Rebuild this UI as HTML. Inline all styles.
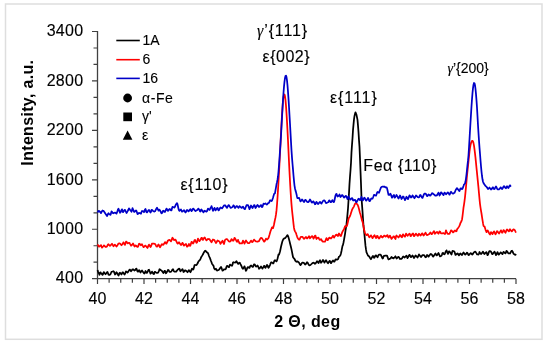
<!DOCTYPE html>
<html><head><meta charset="utf-8"><style>
html,body{margin:0;padding:0;background:#fff;}
body{width:550px;height:345px;overflow:hidden;}
svg{display:block;}
text{font-family:"Liberation Sans",Arial,sans-serif;fill:#000;}
.t16{font-size:16px;stroke:#000;stroke-width:0.12px;}
.t14{font-size:14px;stroke:#000;stroke-width:0.12px;}
.t13{font-size:13px;stroke:#000;stroke-width:0.2px;}
.b16{font-size:16px;font-weight:bold;}
.g{font-family:"Liberation Serif",serif;font-style:italic;}
</style></head><body>
<svg width="550" height="345" viewBox="0 0 550 345">
<rect x="0" y="0" width="550" height="345" fill="#fff"/>
<rect x="5.5" y="4" width="536.5" height="335.3" fill="none" stroke="#dedede" stroke-width="1.5"/>
<path d="M97.5,31.0 V278.7 H516.0" fill="none" stroke="#404040" stroke-width="1.3"/>
<path d="M92.0,278.70H97.5 M93.5,262.22H97.5 M93.5,245.74H97.5 M92.0,229.26H97.5 M93.5,212.78H97.5 M93.5,196.30H97.5 M92.0,179.82H97.5 M93.5,163.34H97.5 M93.5,146.86H97.5 M92.0,130.38H97.5 M93.5,113.90H97.5 M93.5,97.42H97.5 M92.0,80.94H97.5 M93.5,64.46H97.5 M93.5,47.98H97.5 M92.0,31.50H97.5 M97.50,278.7V284 M109.12,278.7V282.8 M120.75,278.7V282.8 M132.38,278.7V282.8 M144.00,278.7V284 M155.62,278.7V282.8 M167.25,278.7V282.8 M178.88,278.7V282.8 M190.50,278.7V284 M202.12,278.7V282.8 M213.75,278.7V282.8 M225.38,278.7V282.8 M237.00,278.7V284 M248.62,278.7V282.8 M260.25,278.7V282.8 M271.88,278.7V282.8 M283.50,278.7V284 M295.12,278.7V282.8 M306.75,278.7V282.8 M318.38,278.7V282.8 M330.00,278.7V284 M341.62,278.7V282.8 M353.25,278.7V282.8 M364.88,278.7V282.8 M376.50,278.7V284 M388.12,278.7V282.8 M399.75,278.7V282.8 M411.38,278.7V282.8 M423.00,278.7V284 M434.62,278.7V282.8 M446.25,278.7V282.8 M457.88,278.7V282.8 M469.50,278.7V284 M481.12,278.7V282.8 M492.75,278.7V282.8 M504.38,278.7V282.8 M516.00,278.7V284" fill="none" stroke="#404040" stroke-width="1.2"/>
<text x="83.1" y="283.4" text-anchor="end" class="t16" textLength="27.3" lengthAdjust="spacing">400</text>
<text x="83.1" y="234.0" text-anchor="end" class="t16" textLength="36.4" lengthAdjust="spacing">1000</text>
<text x="83.1" y="184.5" text-anchor="end" class="t16" textLength="36.4" lengthAdjust="spacing">1600</text>
<text x="83.1" y="135.1" text-anchor="end" class="t16" textLength="36.4" lengthAdjust="spacing">2200</text>
<text x="83.1" y="85.6" text-anchor="end" class="t16" textLength="36.4" lengthAdjust="spacing">2800</text>
<text x="83.1" y="36.2" text-anchor="end" class="t16" textLength="36.4" lengthAdjust="spacing">3400</text>
<text x="97.5" y="303.6" text-anchor="middle" class="t16">40</text>
<text x="144.0" y="303.6" text-anchor="middle" class="t16">42</text>
<text x="190.5" y="303.6" text-anchor="middle" class="t16">44</text>
<text x="237.0" y="303.6" text-anchor="middle" class="t16">46</text>
<text x="283.5" y="303.6" text-anchor="middle" class="t16">48</text>
<text x="330.0" y="303.6" text-anchor="middle" class="t16">50</text>
<text x="376.5" y="303.6" text-anchor="middle" class="t16">52</text>
<text x="423.0" y="303.6" text-anchor="middle" class="t16">54</text>
<text x="469.5" y="303.6" text-anchor="middle" class="t16">56</text>
<text x="516.0" y="303.6" text-anchor="middle" class="t16">58</text>
<text x="307.2" y="326.8" text-anchor="middle" class="b16" textLength="66" lengthAdjust="spacing">2 Θ, deg</text>
<text transform="translate(33,112.8) rotate(-90)" text-anchor="middle" class="b16" textLength="105.7" lengthAdjust="spacing">Intensity, a.u.</text>
<path d="M97.5,270.1 L98.0,271.3 L98.5,272.4 L99.0,273.6 L99.5,274.8 L100.0,273.3 L100.5,272.3 L101.0,273.0 L101.5,273.6 L102.0,274.3 L102.5,274.9 L103.0,274.2 L103.5,272.4 L104.0,272.1 L104.5,272.9 L105.0,273.7 L105.5,274.2 L106.0,273.6 L106.5,273.0 L107.0,272.3 L107.5,272.0 L108.0,273.3 L108.5,274.6 L109.0,274.9 L109.5,274.8 L110.0,274.7 L110.5,274.2 L111.0,273.0 L111.5,271.9 L112.0,271.7 L112.5,271.5 L113.0,271.4 L113.5,271.2 L114.0,271.8 L114.5,273.1 L115.0,274.5 L115.5,274.2 L116.0,273.2 L116.5,272.2 L117.0,273.0 L117.5,273.8 L118.0,274.7 L118.5,275.5 L119.0,274.6 L119.5,273.0 L120.0,272.7 L120.5,273.3 L121.0,274.0 L121.5,274.5 L122.0,273.4 L122.5,272.4 L123.0,272.3 L123.5,273.1 L124.0,273.9 L124.5,274.6 L125.0,273.8 L125.5,272.6 L126.0,271.4 L126.5,271.7 L127.0,272.1 L127.5,272.5 L128.0,272.1 L128.5,271.2 L129.0,270.4 L129.5,269.6 L130.0,269.7 L130.5,270.6 L131.0,271.3 L131.5,270.7 L132.0,270.0 L132.5,269.3 L133.0,269.3 L133.5,269.7 L134.0,270.1 L134.5,270.5 L135.0,270.3 L135.5,269.5 L136.0,268.8 L136.5,268.7 L137.0,270.1 L137.5,271.5 L138.0,271.7 L138.5,270.9 L139.0,270.1 L139.5,270.6 L140.0,271.6 L140.5,272.5 L141.0,271.8 L141.5,271.1 L142.0,270.5 L142.5,271.2 L143.0,271.9 L143.5,272.6 L144.0,273.4 L144.5,273.5 L145.0,272.3 L145.5,271.0 L146.0,271.9 L146.5,272.9 L147.0,272.8 L147.5,271.8 L148.0,270.8 L148.5,269.9 L149.0,269.7 L149.5,271.0 L150.0,272.3 L150.5,273.7 L151.0,273.2 L151.5,272.4 L152.0,271.6 L152.5,272.4 L153.0,273.2 L153.5,274.0 L154.0,274.1 L154.5,272.2 L155.0,271.8 L155.5,272.2 L156.0,272.5 L156.5,272.8 L157.0,272.9 L157.5,272.8 L158.0,272.7 L158.5,271.9 L159.0,270.6 L159.5,269.2 L160.0,269.5 L160.5,269.9 L161.0,270.2 L161.5,270.5 L162.0,271.1 L162.5,271.8 L163.0,272.6 L163.5,273.0 L164.0,272.0 L164.5,270.9 L165.0,270.8 L165.5,272.1 L166.0,273.3 L166.5,272.7 L167.0,271.8 L167.5,270.9 L168.0,269.9 L168.5,270.0 L169.0,270.9 L169.5,271.8 L170.0,271.8 L170.5,271.8 L171.0,271.8 L171.5,271.2 L172.0,270.3 L172.5,269.6 L173.0,269.2 L173.5,270.4 L174.0,271.5 L174.5,271.6 L175.0,271.6 L175.5,271.7 L176.0,271.7 L176.5,271.3 L177.0,270.6 L177.5,269.9 L178.0,269.4 L178.5,269.1 L179.0,268.7 L179.5,268.8 L180.0,270.3 L180.5,271.3 L181.0,270.6 L181.5,270.1 L182.0,269.7 L182.5,269.2 L183.0,270.4 L183.5,272.0 L184.0,271.8 L184.5,271.0 L185.0,270.3 L185.5,270.4 L186.0,270.8 L186.5,271.2 L187.0,271.7 L187.5,272.2 L188.0,271.5 L188.5,270.8 L189.0,270.1 L189.5,270.9 L190.0,271.7 L190.5,272.2 L191.0,271.2 L191.5,269.6 L192.0,268.6 L192.5,269.1 L193.0,269.6 L193.5,269.1 L194.0,267.2 L194.5,265.3 L195.0,264.9 L195.5,265.0 L196.0,265.1 L196.5,265.1 L197.0,264.3 L197.5,263.5 L198.0,262.5 L198.5,261.4 L199.0,260.9 L199.5,260.3 L200.0,259.8 L200.5,258.9 L201.0,257.6 L201.5,256.6 L202.0,255.9 L202.5,255.1 L203.0,254.3 L203.5,253.1 L204.0,252.3 L204.5,251.5 L205.0,250.9 L205.5,250.7 L206.0,251.3 L206.5,252.1 L207.0,252.4 L207.5,252.6 L208.0,253.3 L208.5,254.4 L209.0,256.0 L209.5,257.2 L210.0,258.2 L210.5,259.6 L211.0,261.0 L211.5,262.3 L212.0,263.6 L212.5,264.5 L213.0,265.1 L213.5,265.8 L214.0,267.8 L214.5,269.0 L215.0,269.5 L215.5,269.2 L216.0,268.8 L216.5,269.7 L217.0,270.6 L217.5,270.5 L218.0,270.3 L218.5,270.0 L219.0,269.7 L219.5,269.2 L220.0,268.2 L220.5,267.6 L221.0,267.0 L221.5,267.9 L222.0,269.3 L222.5,270.6 L223.0,270.5 L223.5,269.9 L224.0,269.3 L224.5,269.3 L225.0,269.4 L225.5,269.4 L226.0,268.4 L226.5,266.9 L227.0,265.8 L227.5,266.1 L228.0,266.5 L228.5,266.9 L229.0,267.2 L229.5,265.9 L230.0,264.6 L230.5,264.9 L231.0,265.2 L231.5,265.5 L232.0,265.8 L232.5,264.7 L233.0,262.5 L233.5,262.2 L234.0,262.4 L234.5,262.5 L235.0,262.6 L235.5,262.5 L236.0,261.6 L236.5,261.2 L237.0,262.1 L237.5,263.0 L238.0,263.9 L238.5,263.8 L239.0,263.1 L239.5,262.6 L240.0,263.0 L240.5,264.1 L241.0,265.1 L241.5,266.2 L242.0,267.4 L242.5,268.5 L243.0,268.8 L243.5,267.9 L244.0,267.1 L244.5,266.3 L245.0,267.7 L245.5,269.6 L246.0,270.8 L246.5,270.0 L247.0,268.7 L247.5,267.4 L248.0,267.1 L248.5,267.4 L249.0,267.7 L249.5,267.8 L250.0,266.7 L250.5,265.7 L251.0,265.5 L251.5,265.9 L252.0,266.4 L252.5,266.9 L253.0,266.8 L253.5,265.6 L254.0,264.4 L254.5,264.3 L255.0,264.9 L255.5,265.8 L256.0,266.7 L256.5,266.5 L257.0,266.0 L257.5,265.5 L258.0,266.2 L258.5,267.5 L259.0,268.8 L259.5,268.5 L260.0,268.0 L260.5,267.2 L261.0,266.5 L261.5,267.2 L262.0,268.0 L262.5,268.6 L263.0,267.7 L263.5,266.8 L264.0,265.8 L264.5,266.1 L265.0,267.3 L265.5,267.8 L266.0,266.9 L266.5,265.9 L267.0,264.9 L267.5,265.6 L268.0,267.0 L268.5,267.9 L269.0,267.0 L269.5,266.0 L270.0,265.1 L270.5,263.6 L271.0,262.6 L271.5,262.3 L272.0,262.5 L272.5,263.0 L273.0,263.5 L273.5,263.2 L274.0,261.8 L274.5,260.5 L275.0,260.2 L275.5,260.6 L276.0,261.0 L276.5,261.4 L277.0,260.3 L277.5,258.8 L278.0,256.6 L278.5,254.5 L279.0,254.7 L279.5,253.2 L280.0,251.5 L280.5,249.2 L281.0,246.8 L281.5,244.7 L282.0,242.7 L282.5,241.0 L283.0,239.9 L283.5,238.9 L284.0,238.6 L284.5,238.4 L285.0,238.2 L285.5,237.6 L286.0,237.0 L286.5,236.5 L287.0,235.7 L287.5,235.2 L288.0,236.0 L288.5,237.4 L289.0,239.2 L289.5,241.1 L290.0,243.2 L290.5,245.2 L291.0,247.2 L291.5,249.4 L292.0,251.9 L292.5,254.5 L293.0,257.0 L293.5,257.8 L294.0,258.3 L294.5,259.0 L295.0,260.0 L295.5,261.0 L296.0,261.5 L296.5,261.8 L297.0,261.5 L297.5,261.4 L298.0,261.9 L298.5,262.1 L299.0,262.7 L299.5,263.6 L300.0,264.5 L300.5,265.1 L301.0,264.5 L301.5,263.8 L302.0,262.8 L302.5,262.7 L303.0,262.7 L303.5,262.8 L304.0,263.1 L304.5,263.8 L305.0,264.4 L305.5,264.5 L306.0,263.7 L306.5,262.9 L307.0,262.2 L307.5,262.5 L308.0,263.4 L308.5,264.3 L309.0,265.2 L309.5,265.3 L310.0,265.2 L310.5,265.0 L311.0,264.5 L311.5,264.0 L312.0,263.5 L312.5,263.1 L313.0,262.9 L313.5,262.7 L314.0,262.8 L314.5,263.3 L315.0,263.8 L315.5,263.5 L316.0,262.7 L316.5,262.0 L317.0,261.2 L317.5,261.6 L318.0,262.4 L318.5,263.1 L319.0,261.9 L319.5,260.8 L320.0,260.2 L320.5,261.5 L321.0,262.8 L321.5,262.4 L322.0,261.6 L322.5,260.8 L323.0,260.0 L323.5,260.8 L324.0,261.9 L324.5,262.7 L325.0,261.7 L325.5,260.8 L326.0,260.2 L326.5,261.0 L327.0,261.9 L327.5,262.7 L328.0,263.3 L328.5,262.5 L329.0,261.7 L329.5,260.9 L330.0,261.1 L330.5,262.4 L331.0,263.2 L331.5,262.5 L332.0,261.8 L332.5,261.1 L333.0,260.5 L333.5,261.1 L334.0,261.7 L334.5,261.6 L335.0,260.5 L335.5,259.4 L336.0,259.4 L336.5,259.6 L337.0,259.5 L337.5,259.5 L338.0,259.3 L338.5,257.9 L339.0,256.5 L339.5,256.4 L340.0,255.8 L340.5,255.1 L341.0,253.2 L341.5,251.0 L342.0,248.4 L342.5,245.9 L343.0,244.9 L343.5,242.5 L344.0,239.8 L344.5,237.0 L345.0,234.1 L345.5,230.7 L346.0,227.5 L346.5,224.2 L347.0,219.4 L347.5,214.2 L348.0,208.5 L348.5,200.8 L349.0,193.1 L349.5,183.9 L350.0,176.6 L350.5,170.2 L351.0,163.0 L351.5,152.1 L352.0,144.9 L352.5,138.2 L353.0,130.1 L353.5,124.6 L354.0,119.4 L354.5,115.9 L355.0,113.9 L355.5,112.4 L356.0,113.6 L356.5,114.8 L357.0,117.3 L357.5,119.9 L358.0,125.7 L358.5,132.0 L359.0,140.1 L359.5,146.9 L360.0,158.6 L360.5,171.3 L361.0,183.9 L361.5,198.0 L362.0,204.6 L362.5,211.4 L363.0,218.7 L363.5,225.7 L364.0,230.4 L364.5,235.1 L365.0,240.7 L365.5,245.9 L366.0,249.4 L366.5,252.3 L367.0,253.4 L367.5,254.5 L368.0,255.6 L368.5,255.8 L369.0,256.3 L369.5,257.0 L370.0,257.9 L370.5,258.6 L371.0,259.2 L371.5,258.2 L372.0,257.3 L372.5,256.4 L373.0,256.0 L373.5,257.0 L374.0,257.9 L374.5,257.6 L375.0,256.5 L375.5,255.5 L376.0,255.3 L376.5,256.0 L377.0,256.6 L377.5,257.3 L378.0,256.2 L378.5,255.1 L379.0,254.7 L379.5,254.7 L380.0,254.6 L380.5,254.6 L381.0,255.2 L381.5,256.3 L382.0,257.4 L382.5,258.5 L383.0,258.2 L383.5,256.5 L384.0,255.8 L384.5,255.8 L385.0,255.7 L385.5,255.6 L386.0,255.6 L386.5,255.7 L387.0,255.7 L387.5,256.9 L388.0,258.3 L388.5,259.4 L389.0,259.2 L389.5,258.9 L390.0,258.7 L390.5,258.5 L391.0,257.8 L391.5,256.9 L392.0,257.4 L392.5,257.8 L393.0,258.2 L393.5,258.3 L394.0,257.8 L394.5,257.4 L395.0,256.9 L395.5,256.3 L396.0,257.3 L396.5,258.5 L397.0,258.1 L397.5,257.7 L398.0,257.2 L398.5,256.8 L399.0,257.3 L399.5,258.1 L400.0,259.0 L400.5,258.9 L401.0,258.9 L401.5,258.8 L402.0,258.4 L402.5,257.5 L403.0,256.6 L403.5,256.5 L404.0,257.0 L404.5,257.5 L405.0,257.1 L405.5,256.6 L406.0,256.1 L406.5,255.6 L407.0,257.0 L407.5,258.2 L408.0,257.3 L408.5,256.4 L409.0,255.5 L409.5,254.8 L410.0,255.6 L410.5,256.5 L411.0,257.2 L411.5,256.7 L412.0,256.1 L412.5,255.5 L413.0,256.0 L413.5,257.1 L414.0,258.0 L414.5,257.2 L415.0,256.4 L415.5,255.5 L416.0,255.8 L416.5,256.3 L417.0,256.9 L417.5,257.5 L418.0,256.6 L418.5,255.5 L419.0,254.4 L419.5,255.1 L420.0,255.7 L420.5,256.4 L421.0,257.0 L421.5,256.4 L422.0,255.7 L422.5,255.2 L423.0,255.2 L423.5,255.2 L424.0,255.2 L424.5,255.6 L425.0,256.5 L425.5,257.3 L426.0,257.1 L426.5,256.1 L427.0,255.0 L427.5,255.1 L428.0,255.9 L428.5,256.7 L429.0,256.0 L429.5,255.4 L430.0,254.7 L430.5,254.0 L431.0,254.1 L431.5,254.3 L432.0,254.9 L432.5,255.8 L433.0,256.7 L433.5,256.3 L434.0,255.6 L434.5,254.8 L435.0,254.1 L435.5,253.4 L436.0,254.3 L436.5,255.3 L437.0,255.4 L437.5,254.6 L438.0,253.8 L438.5,253.0 L439.0,254.1 L439.5,255.4 L440.0,256.4 L440.5,256.2 L441.0,256.0 L441.5,255.8 L442.0,254.5 L442.5,253.0 L443.0,252.9 L443.5,253.5 L444.0,254.1 L444.5,254.3 L445.0,253.3 L445.5,252.2 L446.0,251.2 L446.5,250.3 L447.0,251.5 L447.5,252.8 L448.0,253.9 L448.5,252.5 L449.0,251.3 L449.5,251.5 L450.0,252.2 L450.5,253.0 L451.0,253.8 L451.5,254.6 L452.0,252.5 L452.5,250.9 L453.0,251.0 L453.5,251.1 L454.0,251.3 L454.5,251.9 L455.0,253.4 L455.5,254.9 L456.0,254.7 L456.5,254.2 L457.0,253.8 L457.5,253.4 L458.0,253.8 L458.5,254.8 L459.0,255.4 L459.5,254.6 L460.0,253.7 L460.5,253.4 L461.0,254.1 L461.5,254.8 L462.0,255.1 L462.5,254.2 L463.0,253.3 L463.5,252.5 L464.0,253.0 L464.5,253.8 L465.0,254.6 L465.5,254.6 L466.0,253.9 L466.5,253.2 L467.0,252.6 L467.5,253.1 L468.0,254.1 L468.5,255.1 L469.0,255.0 L469.5,254.4 L470.0,253.8 L470.5,253.2 L471.0,253.2 L471.5,253.8 L472.0,254.5 L472.5,254.6 L473.0,253.8 L473.5,252.9 L474.0,252.3 L474.5,252.0 L475.0,251.6 L475.5,251.8 L476.0,252.6 L476.5,253.4 L477.0,254.3 L477.5,254.4 L478.0,254.5 L478.5,254.6 L479.0,253.6 L479.5,252.0 L480.0,252.7 L480.5,253.3 L481.0,254.0 L481.5,253.6 L482.0,252.9 L482.5,252.2 L483.0,251.6 L483.5,252.6 L484.0,253.6 L484.5,254.0 L485.0,253.4 L485.5,252.8 L486.0,252.3 L486.5,252.2 L487.0,253.6 L487.5,255.1 L488.0,254.7 L488.5,253.2 L489.0,251.8 L489.5,251.1 L490.0,251.2 L490.5,251.3 L491.0,251.7 L491.5,252.7 L492.0,253.8 L492.5,254.2 L493.0,253.6 L493.5,252.9 L494.0,252.3 L494.5,251.6 L495.0,252.7 L495.5,253.9 L496.0,255.1 L496.5,254.3 L497.0,253.2 L497.5,252.1 L498.0,253.1 L498.5,254.5 L499.0,254.5 L499.5,253.8 L500.0,253.2 L500.5,252.4 L501.0,252.6 L501.5,253.1 L502.0,253.7 L502.5,254.1 L503.0,253.0 L503.5,251.9 L504.0,252.2 L504.5,252.7 L505.0,253.2 L505.5,253.3 L506.0,252.1 L506.5,250.9 L507.0,251.2 L507.5,252.0 L508.0,252.9 L508.5,253.4 L509.0,253.4 L509.5,253.4 L510.0,253.5 L510.5,252.6 L511.0,251.8 L511.5,250.9 L512.0,250.7 L512.5,251.5 L513.0,252.5 L513.5,253.8 L514.0,254.1 L514.5,254.4 L515.0,254.7 L515.5,254.9 L516.0,254.0" fill="none" stroke="#000" stroke-width="1.75" stroke-linejoin="round"/>
<path d="M97.5,244.3 L98.0,245.2 L98.5,246.1 L99.0,246.7 L99.5,246.3 L100.0,245.9 L100.5,245.5 L101.0,245.1 L101.5,246.6 L102.0,247.6 L102.5,247.1 L103.0,246.5 L103.5,246.0 L104.0,245.4 L104.5,246.0 L105.0,246.4 L105.5,246.9 L106.0,247.0 L106.5,246.8 L107.0,246.3 L107.5,245.4 L108.0,244.5 L108.5,244.2 L109.0,244.8 L109.5,245.3 L110.0,245.8 L110.5,245.4 L111.0,244.9 L111.5,244.3 L112.0,243.8 L112.5,244.6 L113.0,245.4 L113.5,246.3 L114.0,245.7 L114.5,244.8 L115.0,244.7 L115.5,245.3 L116.0,245.9 L116.5,246.5 L117.0,246.0 L117.5,245.2 L118.0,244.3 L118.5,243.5 L119.0,243.4 L119.5,243.4 L120.0,243.5 L120.5,244.1 L121.0,244.6 L121.5,245.2 L122.0,244.7 L122.5,243.9 L123.0,243.1 L123.5,242.3 L124.0,243.2 L124.5,244.3 L125.0,244.8 L125.5,243.2 L126.0,241.7 L126.5,241.6 L127.0,242.5 L127.5,243.3 L128.0,243.3 L128.5,243.0 L129.0,242.8 L129.5,242.8 L130.0,243.8 L130.5,244.7 L131.0,245.7 L131.5,245.4 L132.0,244.9 L132.5,244.2 L133.0,243.5 L133.5,244.4 L134.0,245.4 L134.5,246.5 L135.0,246.1 L135.5,245.4 L136.0,245.5 L136.5,246.2 L137.0,246.7 L137.5,246.9 L138.0,246.8 L138.5,245.4 L139.0,243.9 L139.5,243.7 L140.0,244.1 L140.5,244.9 L141.0,245.3 L141.5,244.7 L142.0,244.3 L142.5,245.3 L143.0,246.2 L143.5,247.2 L144.0,246.8 L144.5,246.4 L145.0,245.6 L145.5,245.6 L146.0,246.2 L146.5,246.8 L147.0,247.5 L147.5,248.0 L148.0,246.7 L148.5,245.4 L149.0,244.6 L149.5,245.4 L150.0,246.2 L150.5,247.0 L151.0,246.2 L151.5,244.9 L152.0,243.7 L152.5,243.6 L153.0,243.7 L153.5,243.7 L154.0,243.7 L154.5,243.8 L155.0,243.9 L155.5,244.6 L156.0,245.6 L156.5,246.5 L157.0,246.7 L157.5,245.9 L158.0,245.1 L158.5,244.4 L159.0,245.2 L159.5,246.6 L160.0,247.3 L160.5,246.5 L161.0,245.6 L161.5,244.7 L162.0,244.1 L162.5,244.5 L163.0,244.9 L163.5,244.6 L164.0,243.8 L164.5,243.0 L165.0,242.1 L165.5,242.8 L166.0,243.6 L166.5,243.6 L167.0,242.5 L167.5,241.5 L168.0,240.5 L168.5,240.2 L169.0,239.9 L169.5,239.9 L170.0,240.3 L170.5,240.8 L171.0,241.3 L171.5,240.4 L172.0,238.9 L172.5,237.7 L173.0,238.5 L173.5,239.3 L174.0,240.1 L174.5,239.9 L175.0,239.7 L175.5,239.6 L176.0,240.6 L176.5,241.6 L177.0,242.6 L177.5,243.6 L178.0,243.6 L178.5,242.9 L179.0,242.2 L179.5,242.9 L180.0,243.8 L180.5,244.4 L181.0,245.0 L181.5,244.4 L182.0,243.6 L182.5,242.8 L183.0,243.6 L183.5,245.0 L184.0,245.6 L184.5,245.2 L185.0,244.7 L185.5,244.3 L186.0,244.0 L186.5,245.3 L187.0,246.6 L187.5,246.6 L188.0,245.9 L188.5,245.0 L189.0,244.0 L189.5,244.9 L190.0,245.9 L190.5,245.3 L191.0,243.6 L191.5,241.9 L192.0,242.1 L192.5,242.8 L193.0,243.5 L193.5,242.9 L194.0,241.6 L194.5,240.3 L195.0,239.9 L195.5,240.9 L196.0,241.8 L196.5,242.8 L197.0,242.5 L197.5,240.3 L198.0,238.6 L198.5,239.6 L199.0,240.5 L199.5,241.2 L200.0,240.3 L200.5,239.5 L201.0,238.6 L201.5,237.8 L202.0,237.9 L202.5,239.7 L203.0,239.9 L203.5,238.8 L204.0,238.1 L204.5,237.4 L205.0,237.9 L205.5,238.9 L206.0,239.9 L206.5,240.3 L207.0,239.8 L207.5,239.4 L208.0,238.9 L208.5,239.0 L209.0,239.1 L209.5,239.2 L210.0,240.0 L210.5,240.7 L211.0,241.5 L211.5,242.3 L212.0,241.4 L212.5,240.4 L213.0,239.5 L213.5,239.7 L214.0,239.9 L214.5,240.3 L215.0,241.3 L215.5,242.2 L216.0,243.1 L216.5,242.3 L217.0,241.3 L217.5,240.4 L218.0,240.7 L218.5,241.0 L219.0,241.3 L219.5,241.5 L220.0,242.8 L220.5,243.9 L221.0,243.1 L221.5,242.3 L222.0,241.4 L222.5,240.7 L223.0,241.9 L223.5,243.1 L224.0,244.0 L224.5,242.0 L225.0,240.0 L225.5,239.5 L226.0,239.3 L226.5,239.1 L227.0,239.1 L227.5,239.7 L228.0,240.3 L228.5,240.9 L229.0,241.5 L229.5,241.6 L230.0,241.5 L230.5,241.4 L231.0,240.2 L231.5,239.1 L232.0,239.6 L232.5,240.2 L233.0,240.8 L233.5,240.6 L234.0,239.2 L234.5,237.9 L235.0,238.3 L235.5,239.2 L236.0,240.1 L236.5,241.0 L237.0,241.9 L237.5,240.7 L238.0,239.8 L238.5,241.0 L239.0,242.1 L239.5,243.3 L240.0,243.3 L240.5,243.3 L241.0,243.4 L241.5,243.4 L242.0,243.4 L242.5,242.0 L243.0,240.6 L243.5,241.5 L244.0,242.6 L244.5,243.7 L245.0,242.5 L245.5,241.2 L246.0,240.4 L246.5,241.2 L247.0,241.9 L247.5,242.7 L248.0,243.1 L248.5,243.1 L249.0,243.1 L249.5,242.9 L250.0,242.1 L250.5,241.4 L251.0,240.6 L251.5,241.2 L252.0,242.2 L252.5,242.2 L253.0,241.3 L253.5,240.4 L254.0,239.6 L254.5,240.1 L255.0,240.7 L255.5,241.2 L256.0,241.4 L256.5,241.5 L257.0,241.6 L257.5,241.7 L258.0,241.4 L258.5,241.3 L259.0,241.1 L259.5,240.1 L260.0,239.2 L260.5,238.3 L261.0,237.8 L261.5,238.0 L262.0,238.3 L262.5,239.1 L263.0,239.9 L263.5,240.7 L264.0,241.6 L264.5,241.7 L265.0,240.7 L265.5,239.6 L266.0,238.6 L266.5,239.4 L267.0,239.5 L267.5,239.1 L268.0,238.6 L268.5,238.0 L269.0,236.4 L269.5,234.8 L270.0,233.0 L270.5,231.3 L271.0,230.0 L271.5,228.7 L272.0,227.4 L272.5,227.5 L273.0,228.2 L273.5,226.6 L274.0,224.5 L274.5,222.0 L275.0,219.6 L275.5,217.4 L276.0,214.4 L276.5,210.4 L277.0,204.7 L277.5,197.8 L278.0,190.0 L278.5,181.4 L279.0,172.8 L279.5,163.5 L280.0,153.7 L280.5,143.6 L281.0,133.4 L281.5,123.8 L282.0,115.0 L282.5,107.2 L283.0,100.9 L283.5,96.6 L284.0,94.6 L284.5,94.5 L285.0,96.3 L285.5,100.2 L286.0,105.9 L286.5,113.2 L287.0,121.6 L287.5,130.8 L288.0,140.5 L288.5,151.1 L289.0,161.9 L289.5,171.9 L290.0,181.3 L290.5,190.0 L291.0,197.8 L291.5,204.4 L292.0,210.0 L292.5,214.7 L293.0,219.1 L293.5,223.8 L294.0,227.9 L294.5,230.2 L295.0,231.3 L295.5,232.2 L296.0,233.1 L296.5,234.8 L297.0,236.3 L297.5,237.6 L298.0,238.5 L298.5,239.1 L299.0,239.6 L299.5,239.6 L300.0,238.5 L300.5,237.4 L301.0,236.8 L301.5,236.8 L302.0,236.8 L302.5,236.8 L303.0,237.6 L303.5,238.4 L304.0,238.8 L304.5,238.3 L305.0,237.8 L305.5,237.3 L306.0,237.0 L306.5,237.7 L307.0,238.4 L307.5,238.3 L308.0,237.6 L308.5,236.9 L309.0,236.2 L309.5,237.2 L310.0,238.3 L310.5,237.7 L311.0,237.2 L311.5,236.7 L312.0,236.1 L312.5,236.4 L313.0,237.5 L313.5,238.6 L314.0,237.8 L314.5,236.7 L315.0,235.7 L315.5,235.7 L316.0,237.6 L316.5,239.0 L317.0,238.5 L317.5,238.0 L318.0,237.6 L318.5,237.6 L319.0,238.7 L319.5,239.7 L320.0,239.9 L320.5,239.5 L321.0,239.1 L321.5,239.8 L322.0,240.8 L322.5,241.4 L323.0,241.6 L323.5,241.6 L324.0,241.6 L324.5,241.6 L325.0,241.6 L325.5,240.5 L326.0,239.2 L326.5,238.1 L327.0,239.1 L327.5,240.2 L328.0,239.8 L328.5,238.9 L329.0,238.0 L329.5,237.6 L330.0,237.9 L330.5,238.2 L331.0,238.5 L331.5,237.9 L332.0,237.2 L332.5,236.4 L333.0,235.7 L333.5,236.8 L334.0,237.7 L334.5,236.9 L335.0,236.1 L335.5,235.4 L336.0,234.8 L336.5,234.6 L337.0,235.1 L337.5,235.7 L338.0,236.0 L338.5,234.3 L339.0,233.4 L339.5,234.3 L340.0,235.2 L340.5,236.0 L341.0,235.9 L341.5,234.4 L342.0,232.9 L342.5,231.7 L343.0,230.8 L343.5,230.0 L344.0,229.3 L344.5,227.9 L345.0,226.3 L345.5,226.1 L346.0,226.4 L346.5,226.4 L347.0,225.8 L347.5,223.8 L348.0,221.6 L348.5,219.3 L349.0,217.6 L349.5,217.0 L350.0,216.0 L350.5,214.7 L351.0,213.1 L351.5,211.5 L352.0,209.9 L352.5,208.8 L353.0,207.9 L353.5,207.2 L354.0,206.3 L354.5,205.0 L355.0,203.9 L355.5,203.4 L356.0,203.0 L356.5,203.6 L357.0,204.0 L357.5,204.6 L358.0,205.7 L358.5,207.1 L359.0,209.0 L359.5,211.0 L360.0,213.0 L360.5,214.4 L361.0,216.4 L361.5,218.4 L362.0,220.5 L362.5,221.5 L363.0,223.9 L363.5,226.5 L364.0,229.3 L364.5,231.1 L365.0,232.8 L365.5,233.8 L366.0,234.7 L366.5,235.1 L367.0,234.9 L367.5,234.1 L368.0,234.5 L368.5,235.7 L369.0,236.9 L369.5,237.3 L370.0,236.6 L370.5,236.0 L371.0,235.3 L371.5,236.2 L372.0,237.2 L372.5,238.2 L373.0,237.4 L373.5,236.6 L374.0,235.8 L374.5,235.2 L375.0,236.1 L375.5,237.0 L376.0,238.0 L376.5,237.9 L377.0,235.8 L377.5,235.8 L378.0,236.9 L378.5,237.7 L379.0,238.6 L379.5,238.1 L380.0,237.2 L380.5,236.3 L381.0,235.8 L381.5,236.6 L382.0,237.3 L382.5,237.5 L383.0,236.9 L383.5,236.3 L384.0,235.7 L384.5,235.6 L385.0,236.1 L385.5,236.6 L386.0,236.5 L386.5,235.9 L387.0,235.4 L387.5,235.1 L388.0,236.8 L388.5,237.7 L389.0,237.0 L389.5,236.3 L390.0,235.6 L390.5,236.7 L391.0,237.8 L391.5,238.9 L392.0,238.3 L392.5,237.6 L393.0,237.0 L393.5,236.3 L394.0,236.3 L394.5,237.3 L395.0,238.3 L395.5,239.0 L396.0,236.5 L396.5,235.5 L397.0,236.0 L397.5,236.5 L398.0,237.0 L398.5,237.5 L399.0,236.8 L399.5,235.9 L400.0,235.0 L400.5,235.4 L401.0,236.2 L401.5,237.0 L402.0,237.3 L402.5,235.5 L403.0,234.3 L403.5,235.0 L404.0,235.7 L404.5,236.4 L405.0,236.6 L405.5,235.2 L406.0,233.7 L406.5,234.2 L407.0,235.1 L407.5,235.9 L408.0,235.3 L408.5,234.7 L409.0,234.1 L409.5,233.6 L410.0,234.2 L410.5,236.0 L411.0,236.0 L411.5,235.3 L412.0,234.5 L412.5,233.7 L413.0,233.4 L413.5,234.8 L414.0,236.2 L414.5,235.8 L415.0,235.0 L415.5,234.2 L416.0,233.7 L416.5,234.4 L417.0,235.0 L417.5,235.7 L418.0,235.8 L418.5,234.5 L419.0,233.7 L419.5,234.3 L420.0,234.9 L420.5,235.5 L421.0,235.1 L421.5,234.2 L422.0,233.3 L422.5,233.6 L423.0,234.6 L423.5,235.5 L424.0,235.1 L424.5,234.2 L425.0,233.4 L425.5,232.6 L426.0,233.6 L426.5,234.6 L427.0,235.1 L427.5,234.9 L428.0,234.7 L428.5,234.5 L429.0,234.3 L429.5,233.6 L430.0,232.9 L430.5,232.5 L431.0,233.4 L431.5,234.2 L432.0,234.0 L432.5,233.2 L433.0,232.5 L433.5,231.7 L434.0,231.2 L434.5,232.6 L435.0,233.8 L435.5,233.2 L436.0,232.7 L436.5,232.2 L437.0,231.9 L437.5,232.5 L438.0,233.1 L438.5,233.7 L439.0,232.6 L439.5,231.4 L440.0,231.5 L440.5,232.5 L441.0,233.4 L441.5,233.4 L442.0,233.3 L442.5,233.3 L443.0,233.2 L443.5,233.1 L444.0,233.4 L444.5,233.7 L445.0,234.0 L445.5,232.5 L446.0,230.3 L446.5,231.5 L447.0,232.6 L447.5,233.7 L448.0,233.9 L448.5,233.9 L449.0,234.0 L449.5,233.8 L450.0,232.7 L450.5,231.6 L451.0,230.4 L451.5,230.4 L452.0,231.1 L452.5,231.8 L453.0,232.4 L453.5,232.2 L454.0,231.4 L454.5,230.6 L455.0,230.5 L455.5,230.9 L456.0,231.3 L456.5,231.2 L457.0,229.6 L457.5,228.6 L458.0,228.1 L458.5,227.4 L459.0,226.6 L459.5,225.6 L460.0,224.4 L460.5,222.9 L461.0,222.0 L461.5,221.0 L462.0,219.7 L462.5,216.1 L463.0,212.0 L463.5,207.7 L464.0,204.6 L464.5,201.1 L465.0,197.1 L465.5,192.2 L466.0,186.8 L466.5,181.2 L467.0,175.7 L467.5,171.0 L468.0,166.2 L468.5,161.3 L469.0,156.3 L469.5,151.7 L470.0,147.8 L470.5,145.1 L471.0,143.1 L471.5,141.8 L472.0,140.9 L472.5,140.8 L473.0,141.5 L473.5,143.1 L474.0,145.7 L474.5,149.3 L475.0,153.4 L475.5,157.9 L476.0,162.8 L476.5,168.0 L477.0,172.9 L477.5,177.9 L478.0,182.8 L478.5,187.9 L479.0,193.5 L479.5,199.0 L480.0,203.8 L480.5,207.5 L481.0,210.7 L481.5,213.5 L482.0,216.8 L482.5,220.1 L483.0,223.2 L483.5,225.9 L484.0,226.3 L484.5,226.3 L485.0,227.9 L485.5,229.6 L486.0,231.0 L486.5,232.1 L487.0,231.3 L487.5,230.4 L488.0,231.0 L488.5,232.0 L489.0,233.0 L489.5,233.9 L490.0,234.5 L490.5,233.3 L491.0,232.2 L491.5,232.4 L492.0,233.5 L492.5,234.1 L493.0,233.1 L493.5,232.2 L494.0,231.3 L494.5,232.2 L495.0,233.3 L495.5,234.3 L496.0,233.5 L496.5,232.4 L497.0,231.2 L497.5,231.3 L498.0,232.1 L498.5,232.9 L499.0,233.5 L499.5,232.7 L500.0,231.9 L500.5,231.1 L501.0,230.3 L501.5,231.5 L502.0,232.6 L502.5,232.6 L503.0,231.3 L503.5,230.1 L504.0,230.3 L504.5,231.2 L505.0,232.2 L505.5,232.8 L506.0,231.5 L506.5,230.2 L507.0,229.4 L507.5,229.9 L508.0,230.5 L508.5,231.1 L509.0,231.4 L509.5,230.1 L510.0,229.2 L510.5,229.9 L511.0,230.6 L511.5,231.4 L512.0,231.4 L512.5,230.6 L513.0,229.8 L513.5,229.4 L514.0,229.6 L514.5,229.9 L515.0,230.5 L515.5,231.6 L516.0,232.6" fill="none" stroke="#ff0000" stroke-width="1.75" stroke-linejoin="round"/>
<path d="M97.5,212.4 L98.0,211.7 L98.5,211.1 L99.0,210.8 L99.5,211.3 L100.0,211.9 L100.5,212.5 L101.0,213.1 L101.5,212.1 L102.0,211.2 L102.5,210.5 L103.0,210.7 L103.5,210.9 L104.0,211.5 L104.5,212.2 L105.0,213.0 L105.5,213.8 L106.0,214.6 L106.5,215.3 L107.0,216.0 L107.5,215.1 L108.0,213.9 L108.5,213.2 L109.0,213.9 L109.5,214.3 L110.0,214.6 L110.5,214.9 L111.0,213.2 L111.5,211.4 L112.0,211.9 L112.5,212.5 L113.0,213.1 L113.5,213.3 L114.0,213.0 L114.5,212.8 L115.0,212.6 L115.5,212.8 L116.0,213.2 L116.5,213.6 L117.0,212.5 L117.5,210.9 L118.0,209.3 L118.5,208.7 L119.0,210.0 L119.5,211.4 L120.0,212.8 L120.5,212.3 L121.0,211.2 L121.5,210.0 L122.0,209.3 L122.5,211.1 L123.0,212.2 L123.5,211.5 L124.0,210.7 L124.5,210.0 L125.0,209.8 L125.5,210.9 L126.0,211.9 L126.5,213.0 L127.0,212.2 L127.5,211.4 L128.0,210.5 L128.5,209.5 L129.0,208.4 L129.5,209.1 L130.0,209.8 L130.5,210.4 L131.0,211.1 L131.5,211.8 L132.0,210.2 L132.5,208.2 L133.0,209.3 L133.5,210.4 L134.0,211.8 L134.5,211.8 L135.0,211.3 L135.5,210.9 L136.0,210.5 L136.5,210.9 L137.0,212.5 L137.5,214.1 L138.0,214.0 L138.5,213.5 L139.0,212.9 L139.5,213.0 L140.0,213.3 L140.5,213.6 L141.0,213.7 L141.5,212.1 L142.0,211.0 L142.5,211.1 L143.0,211.2 L143.5,211.7 L144.0,212.2 L144.5,211.1 L145.0,209.6 L145.5,208.9 L146.0,210.5 L146.5,212.2 L147.0,212.4 L147.5,211.7 L148.0,210.9 L148.5,210.2 L149.0,209.9 L149.5,210.8 L150.0,211.7 L150.5,212.5 L151.0,211.8 L151.5,209.9 L152.0,209.9 L152.5,210.4 L153.0,210.9 L153.5,211.3 L154.0,211.5 L154.5,211.5 L155.0,211.3 L155.5,210.3 L156.0,209.3 L156.5,208.4 L157.0,207.7 L157.5,208.6 L158.0,209.5 L158.5,210.6 L159.0,210.2 L159.5,209.7 L160.0,210.4 L160.5,211.3 L161.0,212.3 L161.5,213.3 L162.0,213.0 L162.5,212.0 L163.0,210.9 L163.5,210.7 L164.0,211.3 L164.5,211.8 L165.0,211.9 L165.5,210.7 L166.0,209.5 L166.5,208.6 L167.0,209.3 L167.5,210.4 L168.0,210.9 L168.5,210.3 L169.0,209.6 L169.5,209.0 L170.0,209.1 L170.5,210.0 L171.0,210.4 L171.5,210.3 L172.0,208.2 L172.5,206.9 L173.0,207.1 L173.5,207.2 L174.0,207.4 L174.5,207.6 L175.0,206.7 L175.5,205.4 L176.0,204.3 L176.5,203.7 L177.0,203.1 L177.5,204.1 L178.0,206.5 L178.5,208.9 L179.0,210.3 L179.5,210.8 L180.0,210.4 L180.5,209.8 L181.0,209.5 L181.5,210.6 L182.0,211.7 L182.5,211.5 L183.0,211.1 L183.5,210.6 L184.0,210.2 L184.5,210.6 L185.0,212.0 L185.5,212.5 L186.0,211.7 L186.5,210.9 L187.0,210.0 L187.5,210.1 L188.0,210.7 L188.5,211.4 L189.0,210.9 L189.5,210.2 L190.0,209.5 L190.5,209.1 L191.0,210.2 L191.5,211.2 L192.0,210.7 L192.5,209.7 L193.0,208.7 L193.5,208.7 L194.0,209.4 L194.5,210.0 L195.0,210.6 L195.5,211.0 L196.0,210.7 L196.5,210.5 L197.0,210.3 L197.5,209.6 L198.0,208.9 L198.5,208.6 L199.0,209.4 L199.5,210.4 L200.0,211.4 L200.5,211.5 L201.0,209.8 L201.5,209.5 L202.0,210.3 L202.5,211.0 L203.0,211.8 L203.5,212.4 L204.0,211.4 L204.5,210.7 L205.0,210.9 L205.5,211.2 L206.0,211.4 L206.5,211.7 L207.0,211.2 L207.5,209.9 L208.0,208.6 L208.5,209.0 L209.0,209.5 L209.5,210.0 L210.0,209.1 L210.5,208.0 L211.0,207.1 L211.5,206.1 L212.0,207.5 L212.5,209.2 L213.0,210.8 L213.5,209.8 L214.0,208.8 L214.5,207.8 L215.0,209.0 L215.5,210.4 L216.0,209.7 L216.5,209.1 L217.0,208.3 L217.5,207.9 L218.0,209.1 L218.5,210.3 L219.0,210.2 L219.5,209.2 L220.0,208.1 L220.5,207.4 L221.0,207.7 L221.5,208.0 L222.0,208.4 L222.5,207.7 L223.0,207.0 L223.5,206.3 L224.0,205.6 L224.5,205.3 L225.0,205.3 L225.5,205.7 L226.0,206.5 L226.5,207.3 L227.0,207.8 L227.5,206.9 L228.0,206.0 L228.5,205.1 L229.0,205.3 L229.5,206.1 L230.0,206.9 L230.5,207.8 L231.0,207.8 L231.5,207.6 L232.0,207.3 L232.5,206.9 L233.0,206.1 L233.5,205.3 L234.0,205.8 L234.5,207.3 L235.0,208.0 L235.5,207.4 L236.0,206.7 L236.5,206.1 L237.0,206.1 L237.5,206.7 L238.0,207.3 L238.5,207.9 L239.0,206.9 L239.5,206.1 L240.0,206.5 L240.5,207.0 L241.0,207.4 L241.5,207.9 L242.0,207.7 L242.5,207.1 L243.0,206.6 L243.5,207.5 L244.0,208.3 L244.5,209.2 L245.0,209.1 L245.5,207.8 L246.0,206.5 L246.5,205.2 L247.0,205.2 L247.5,205.2 L248.0,205.2 L248.5,206.4 L249.0,207.7 L249.5,209.1 L250.0,208.0 L250.5,206.7 L251.0,205.5 L251.5,206.0 L252.0,207.2 L252.5,208.0 L253.0,207.0 L253.5,206.1 L254.0,205.1 L254.5,205.1 L255.0,206.6 L255.5,208.0 L256.0,207.3 L256.5,206.5 L257.0,205.6 L257.5,204.9 L258.0,205.6 L258.5,206.3 L259.0,207.0 L259.5,206.8 L260.0,206.1 L260.5,205.5 L261.0,205.0 L261.5,206.1 L262.0,207.2 L262.5,206.7 L263.0,205.1 L263.5,203.7 L264.0,203.8 L264.5,204.0 L265.0,203.8 L265.5,203.4 L266.0,204.0 L266.5,204.5 L267.0,204.6 L267.5,203.9 L268.0,203.2 L268.5,203.1 L269.0,202.8 L269.5,201.6 L270.0,200.4 L270.5,200.3 L271.0,200.7 L271.5,201.0 L272.0,200.6 L272.5,199.3 L273.0,197.8 L273.5,195.9 L274.0,194.2 L274.5,193.7 L275.0,193.1 L275.5,190.2 L276.0,187.3 L276.5,184.3 L277.0,182.2 L277.5,179.7 L278.0,176.5 L278.5,171.5 L279.0,165.3 L279.5,158.2 L280.0,150.8 L280.5,143.6 L281.0,135.6 L281.5,126.6 L282.0,117.5 L282.5,108.6 L283.0,100.2 L283.5,92.8 L284.0,86.6 L284.5,81.6 L285.0,78.0 L285.5,76.0 L286.0,75.6 L286.5,77.1 L287.0,80.5 L287.5,85.4 L288.0,91.8 L288.5,98.9 L289.0,106.8 L289.5,115.2 L290.0,123.8 L290.5,132.9 L291.0,141.9 L291.5,150.5 L292.0,157.6 L292.5,163.8 L293.0,169.4 L293.5,175.5 L294.0,180.9 L294.5,185.6 L295.0,188.5 L295.5,190.6 L296.0,192.1 L296.5,194.2 L297.0,196.7 L297.5,198.1 L298.0,198.2 L298.5,198.1 L299.0,197.8 L299.5,198.9 L300.0,200.2 L300.5,201.4 L301.0,200.9 L301.5,200.2 L302.0,199.4 L302.5,199.9 L303.0,200.7 L303.5,201.4 L304.0,202.1 L304.5,201.2 L305.0,200.2 L305.5,199.8 L306.0,200.4 L306.5,201.1 L307.0,201.8 L307.5,202.0 L308.0,202.0 L308.5,202.0 L309.0,201.4 L309.5,200.3 L310.0,199.4 L310.5,200.2 L311.0,201.1 L311.5,202.1 L312.0,202.6 L312.5,202.1 L313.0,201.6 L313.5,201.4 L314.0,202.4 L314.5,203.4 L315.0,204.3 L315.5,204.1 L316.0,202.5 L316.5,201.9 L317.0,202.6 L317.5,203.4 L318.0,204.1 L318.5,203.6 L319.0,203.0 L319.5,202.4 L320.0,201.9 L320.5,202.5 L321.0,203.2 L321.5,203.6 L322.0,202.7 L322.5,201.8 L323.0,201.0 L323.5,200.5 L324.0,200.4 L324.5,200.4 L325.0,201.2 L325.5,202.2 L326.0,203.1 L326.5,202.9 L327.0,202.7 L327.5,202.5 L328.0,202.3 L328.5,201.8 L329.0,200.6 L329.5,200.4 L330.0,201.2 L330.5,202.1 L331.0,202.2 L331.5,201.5 L332.0,200.8 L332.5,200.1 L333.0,201.1 L333.5,202.1 L334.0,202.0 L334.5,200.2 L335.0,197.8 L335.5,195.3 L336.0,194.3 L336.5,193.9 L337.0,195.2 L337.5,196.5 L338.0,196.2 L338.5,195.8 L339.0,195.2 L339.5,194.5 L340.0,196.1 L340.5,197.0 L341.0,196.4 L341.5,195.7 L342.0,195.1 L342.5,195.2 L343.0,196.0 L343.5,196.8 L344.0,197.7 L344.5,197.2 L345.0,196.6 L345.5,196.0 L346.0,195.8 L346.5,196.9 L347.0,198.0 L347.5,199.1 L348.0,197.6 L348.5,196.3 L349.0,197.3 L349.5,198.2 L350.0,199.1 L350.5,199.6 L351.0,199.0 L351.5,198.5 L352.0,198.0 L352.5,198.5 L353.0,200.4 L353.5,200.5 L354.0,200.3 L354.5,200.1 L355.0,199.8 L355.5,200.6 L356.0,202.0 L356.5,202.3 L357.0,201.4 L357.5,200.5 L358.0,199.6 L358.5,198.7 L359.0,198.9 L359.5,199.5 L360.0,200.1 L360.5,199.9 L361.0,198.4 L361.5,196.9 L362.0,198.6 L362.5,200.5 L363.0,200.2 L363.5,199.1 L364.0,198.0 L364.5,197.7 L365.0,198.5 L365.5,199.6 L366.0,200.6 L366.5,200.6 L367.0,199.7 L367.5,198.8 L368.0,197.9 L368.5,198.5 L369.0,200.4 L369.5,201.2 L370.0,200.9 L370.5,199.9 L371.0,198.9 L371.5,198.4 L372.0,198.5 L372.5,198.6 L373.0,197.5 L373.5,196.2 L374.0,194.8 L374.5,194.9 L375.0,195.2 L375.5,195.5 L376.0,195.7 L376.5,194.5 L377.0,192.8 L377.5,191.9 L378.0,192.3 L378.5,192.6 L379.0,192.8 L379.5,191.4 L380.0,190.0 L380.5,188.7 L381.0,187.4 L381.5,187.1 L382.0,186.8 L382.5,186.6 L383.0,186.7 L383.5,186.7 L384.0,186.8 L384.5,186.6 L385.0,186.9 L385.5,187.5 L386.0,187.4 L386.5,187.3 L387.0,188.1 L387.5,190.3 L388.0,192.6 L388.5,194.8 L389.0,195.0 L389.5,194.6 L390.0,194.2 L390.5,193.8 L391.0,194.9 L391.5,196.4 L392.0,197.7 L392.5,196.9 L393.0,196.1 L393.5,195.4 L394.0,195.0 L394.5,197.6 L395.0,197.6 L395.5,196.7 L396.0,195.9 L396.5,195.0 L397.0,195.8 L397.5,196.7 L398.0,197.6 L398.5,198.5 L399.0,197.7 L399.5,196.6 L400.0,195.5 L400.5,196.4 L401.0,197.7 L401.5,199.0 L402.0,198.3 L402.5,197.4 L403.0,196.5 L403.5,196.6 L404.0,197.8 L404.5,198.9 L405.0,200.1 L405.5,199.1 L406.0,197.8 L406.5,196.7 L407.0,197.6 L407.5,198.5 L408.0,199.1 L408.5,197.9 L409.0,196.6 L409.5,195.4 L410.0,195.9 L410.5,196.7 L411.0,197.5 L411.5,197.4 L412.0,196.4 L412.5,195.4 L413.0,196.1 L413.5,196.8 L414.0,197.6 L414.5,198.2 L415.0,197.3 L415.5,196.3 L416.0,195.4 L416.5,195.9 L417.0,196.4 L417.5,196.9 L418.0,197.2 L418.5,197.3 L419.0,197.4 L419.5,196.4 L420.0,195.1 L420.5,195.0 L421.0,195.9 L421.5,196.8 L422.0,197.7 L422.5,197.9 L423.0,196.6 L423.5,195.4 L424.0,194.2 L424.5,193.6 L425.0,193.5 L425.5,193.5 L426.0,194.1 L426.5,195.1 L427.0,196.0 L427.5,196.0 L428.0,195.2 L428.5,194.4 L429.0,194.7 L429.5,195.2 L430.0,195.7 L430.5,195.4 L431.0,194.7 L431.5,194.0 L432.0,193.2 L432.5,193.3 L433.0,193.7 L433.5,194.1 L434.0,194.5 L434.5,194.9 L435.0,195.4 L435.5,195.7 L436.0,195.6 L436.5,195.4 L437.0,195.3 L437.5,194.4 L438.0,193.5 L438.5,192.6 L439.0,193.4 L439.5,195.6 L440.0,194.8 L440.5,193.6 L441.0,192.4 L441.5,192.6 L442.0,193.2 L442.5,193.9 L443.0,194.5 L443.5,195.1 L444.0,193.8 L444.5,192.6 L445.0,192.9 L445.5,193.6 L446.0,194.3 L446.5,193.8 L447.0,193.2 L447.5,192.5 L448.0,192.4 L448.5,193.2 L449.0,193.9 L449.5,194.7 L450.0,193.9 L450.5,192.3 L451.0,191.8 L451.5,192.4 L452.0,193.0 L452.5,193.5 L453.0,193.6 L453.5,193.4 L454.0,193.1 L454.5,192.8 L455.0,191.7 L455.5,190.5 L456.0,189.4 L456.5,188.7 L457.0,188.1 L457.5,188.7 L458.0,189.4 L458.5,190.0 L459.0,190.7 L459.5,191.0 L460.0,189.7 L460.5,188.3 L461.0,188.3 L461.5,188.7 L462.0,189.1 L462.5,188.7 L463.0,187.4 L463.5,186.0 L464.0,184.4 L464.5,184.1 L465.0,183.4 L465.5,181.6 L466.0,178.3 L466.5,174.4 L467.0,169.9 L467.5,164.8 L468.0,160.7 L468.5,155.3 L469.0,147.6 L469.5,139.4 L470.0,130.8 L470.5,122.3 L471.0,114.2 L471.5,106.3 L472.0,99.2 L472.5,93.0 L473.0,88.1 L473.5,84.7 L474.0,83.0 L474.5,83.2 L475.0,85.2 L475.5,89.0 L476.0,94.1 L476.5,100.4 L477.0,107.6 L477.5,116.2 L478.0,125.3 L478.5,133.2 L479.0,140.7 L479.5,147.6 L480.0,153.7 L480.5,160.3 L481.0,166.3 L481.5,171.6 L482.0,176.0 L482.5,179.3 L483.0,181.7 L483.5,183.0 L484.0,183.9 L484.5,184.5 L485.0,185.2 L485.5,185.9 L486.0,186.4 L486.5,186.8 L487.0,187.6 L487.5,188.3 L488.0,189.0 L488.5,188.7 L489.0,188.0 L489.5,187.5 L490.0,188.2 L490.5,188.8 L491.0,189.5 L491.5,189.4 L492.0,188.5 L492.5,187.6 L493.0,187.3 L493.5,188.3 L494.0,189.2 L494.5,189.0 L495.0,188.1 L495.5,187.3 L496.0,186.5 L496.5,187.3 L497.0,188.4 L497.5,189.4 L498.0,189.4 L498.5,189.3 L499.0,189.3 L499.5,188.9 L500.0,188.2 L500.5,187.4 L501.0,187.6 L501.5,188.4 L502.0,189.1 L502.5,188.6 L503.0,187.6 L503.5,186.6 L504.0,186.1 L504.5,186.8 L505.0,187.4 L505.5,188.0 L506.0,188.3 L506.5,186.8 L507.0,186.2 L507.5,187.0 L508.0,187.8 L508.5,188.0 L509.0,186.9 L509.5,185.8 L510.0,185.3 L510.5,186.0 L511.0,186.6" fill="none" stroke="#0000c8" stroke-width="1.75" stroke-linejoin="round"/>
<path d="M116.3,40.5H139.8" stroke="#000" stroke-width="1.6"/>
<path d="M116.3,59.7H139.8" stroke="#ff0000" stroke-width="1.6"/>
<path d="M116.3,78.4H139.8" stroke="#0000c8" stroke-width="1.6"/>
<text x="142.5" y="45" class="t14">1A</text>
<text x="142.5" y="64.2" class="t14">6</text>
<text x="142.5" y="82.9" class="t14">16</text>
<circle cx="127.6" cy="98" r="4.4" fill="#000"/>
<rect x="123.3" y="112.5" width="8.7" height="8.7" fill="#000"/>
<path d="M122.8,139.8 L127.6,130.6 L132.4,139.8Z" fill="#000"/>
<text x="142" y="102.5" class="t14" textLength="30.9" lengthAdjust="spacing">α-Fe</text>
<text x="142" y="121.3" class="t14">γ'</text>
<text x="142" y="140" class="t14">ε</text>
<text x="257" y="36.3" class="t16" textLength="50.2" lengthAdjust="spacing"><tspan class="g">γ</tspan>’{111}</text>
<text x="262.5" y="62" class="t16" textLength="47.1" lengthAdjust="spacing">ε{002}</text>
<text x="330" y="102.6" class="t16" textLength="46.8" lengthAdjust="spacing">ε{111}</text>
<text x="363.3" y="170.8" class="t16" textLength="73" lengthAdjust="spacing">Feα {110}</text>
<text x="447.5" y="72.6" class="t14" textLength="41.3" lengthAdjust="spacing"><tspan class="g">γ</tspan>’{200}</text>
<text x="180.5" y="189.9" class="t16" textLength="47" lengthAdjust="spacing">ε{110}</text>
</svg>
</body></html>
